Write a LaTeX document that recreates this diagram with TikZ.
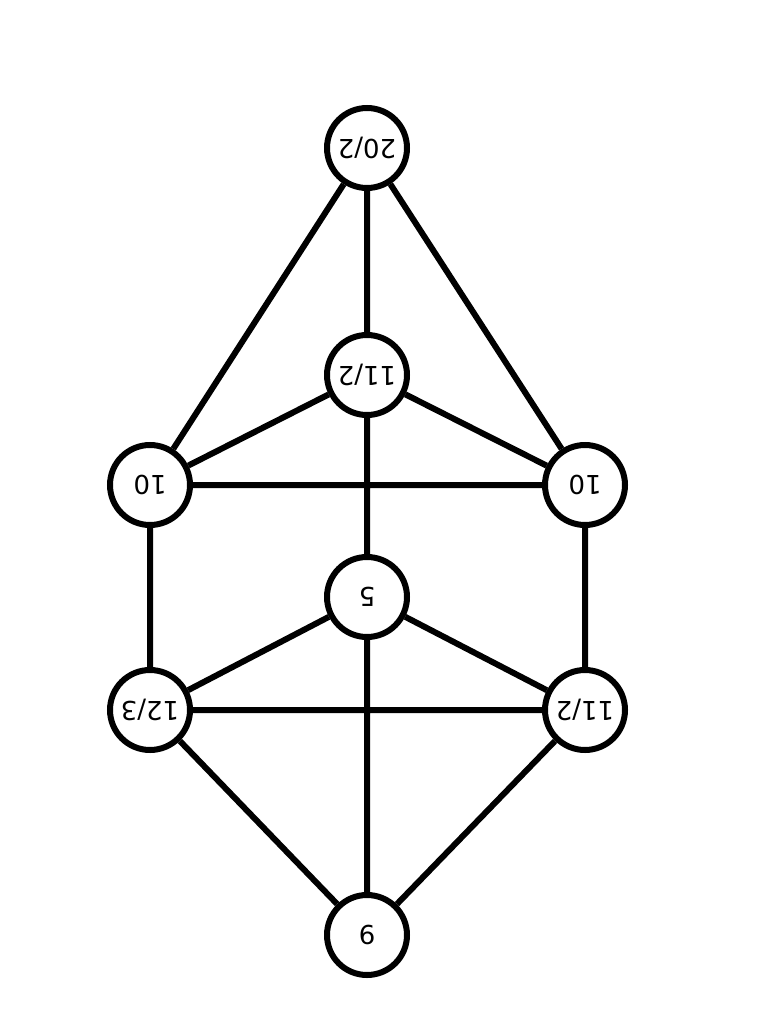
\documentclass[tikz,border=0pt]{standalone}
\usepackage{fontspec}
\setmainfont{DejaVu Sans}
\begin{document}
\begin{tikzpicture}[x=1pt,y=-1pt,
  vert/.style={circle,draw,line width=6pt,minimum size=80pt,inner sep=0pt,fill=white,font=\fontsize{26}{26}\selectfont,rotate=180},
  edge/.style={line width=6pt}]
\useasboundingbox (0,0) rectangle (768,1024);
\node[vert] (t) at (367,148) {20/2};
\node[vert] (mu) at (367,375) {11/2};
\node[vert] (l) at (150,485) {10};
\node[vert] (r) at (585,485) {10};
\node[vert] (c) at (367,597) {5};
\node[vert] (ll) at (150,710) {12/3};
\node[vert] (lr) at (585,710) {11/2};
\node[vert] (b) at (367,935) {9};
\begin{scope}[on background layer/.try]
\end{scope}
\draw[edge] (t)--(l) (t)--(mu) (t)--(r) (mu)--(l) (mu)--(r) (mu)--(c) (l)--(r)
 (l)--(ll) (r)--(lr) (c)--(ll) (c)--(lr) (c)--(b) (ll)--(lr) (ll)--(b) (lr)--(b);
\end{tikzpicture}
\end{document}
